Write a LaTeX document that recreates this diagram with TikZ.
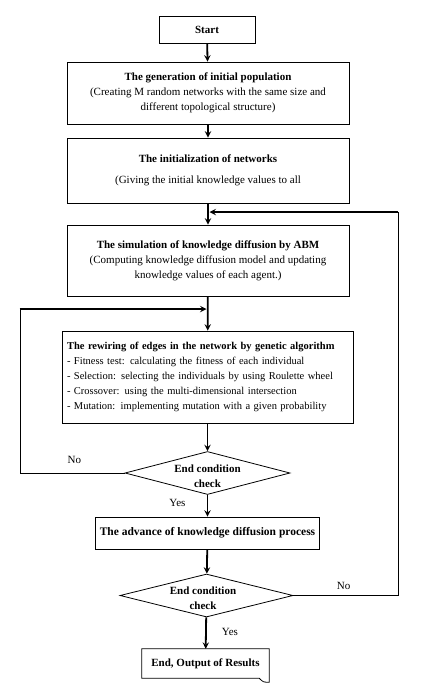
\documentclass[tikz,border=0pt]{standalone}
\usepackage{fontspec}
\setmainfont{Liberation Serif}
\usetikzlibrary{shapes}
\usetikzlibrary{arrows}
\tikzstyle{instruct}=[rectangle,draw,line width=0.8pt,inner sep=4pt,align=center,
  font=\fontsize{11}{15}\selectfont]
\tikzstyle{test}=[diamond,draw,line width=0.8pt,inner sep=0pt,minimum width=165pt,minimum height=43pt]
\tikzstyle{testtext}=[align=center,font=\fontsize{11}{15}\selectfont\bfseries]
\tikzstyle{fin}=[rectangle,inner sep=0pt,minimum width=127pt,minimum height=29pt,
  font=\fontsize{11}{15}\selectfont\bfseries]
\tikzstyle{lbl}=[font=\fontsize{11}{12}\selectfont]
\tikzstyle{suite}=[->,>=stealth,line width=1.8pt]
\tikzstyle{retour}=[line width=0.8pt]

\begin{document}
\begin{tikzpicture}[x=1pt,y=-1pt]
\useasboundingbox (0,0) rectangle (423,693);
\node[instruct,minimum width=96pt,minimum height=27pt] (start) at (207,29.5) {\textbf{Start}};
\node[instruct,minimum width=282pt,minimum height=62pt] (gen) at (208,93)
  {\textbf{The generation of initial population}\\(Creating M random networks with the same size and\\different topological structure)};
\node[instruct,minimum width=282pt,minimum height=65pt] (init) at (208,170.5)
  {\textbf{The initialization of networks}\\[6pt](Giving the initial knowledge values to all};
\node[instruct,minimum width=282pt,minimum height=71pt] (sim) at (208,260.5)
  {\textbf{The simulation of knowledge diffusion by ABM}\\(Computing knowledge diffusion model and updating\\knowledge values of each agent.)};
\node[instruct,align=left,text width=281pt,inner sep=5pt,minimum height=92pt,
  font=\fontsize{10.5}{15}\selectfont] (ga) at (207.5,377)
  {\textbf{The rewiring of edges in the network by genetic algorithm}\\
   - Fitness test: calculating the fitness of each individual\\
   - Selection: selecting the individuals by using Roulette wheel\\
   - Crossover: using the multi-dimensional intersection\\
   - Mutation: implementing mutation with a given probability};
\node[test] (c1) at (207.5,473) {};
\node[testtext] (c1t) at (207.5,476) {End condition\\check};
\node[instruct,minimum width=221pt,minimum height=32pt,font=\fontsize{11.5}{15}\selectfont] (adv) at (207.5,533)
  {\textbf{The advance of knowledge diffusion process}};
\node[test,minimum width=173pt] (c2) at (206.5,595.5) {};
\node[testtext] (c2t) at (203,598.5) {End condition\\check};
\node[fin] (end) at (205.5,663.5) {End, Output of Results};
\draw[line width=0.8pt] (end.south west) -- (end.north west) -- (end.north east)
  -- ([yshift=-4pt]end.south east) .. controls ([xshift=-6pt,yshift=-4pt]end.south east) .. ([xshift=-10pt]end.south east) -- cycle;
\coordinate (j1) at (207.5,212);
\coordinate (j2) at (207.5,309);
%Placementdesflèches
\draw[suite] (start) -- (gen);
\draw[suite] (gen) -- (init);
\draw[suite] (init.south) -- (sim.north);
\draw[suite] (sim) -- (ga);
\draw[suite] (ga) -- (c1);
\draw[suite] (c1) -- (adv) node[lbl,pos=0.35,xshift=-30pt]{Yes};
\draw[suite] (adv) -- (c2);
\draw[suite] (c2) -- (end) node[lbl,pos=0.45,xshift=24pt]{Yes};
\draw[retour] (c2.east) -- (398,595.5) node[lbl,pos=0.48,above=2pt]{No} -- (398,212);
\draw[suite] (398.4,212) -- ([xshift=2pt]j1);
\draw[retour] (c1.west) -- (20,473) node[lbl,pos=0.48,above=6pt]{No} -- (20,309);
\draw[suite] (19.6,309) -- ([xshift=-1pt]j2);
\end{tikzpicture}
\end{document}
